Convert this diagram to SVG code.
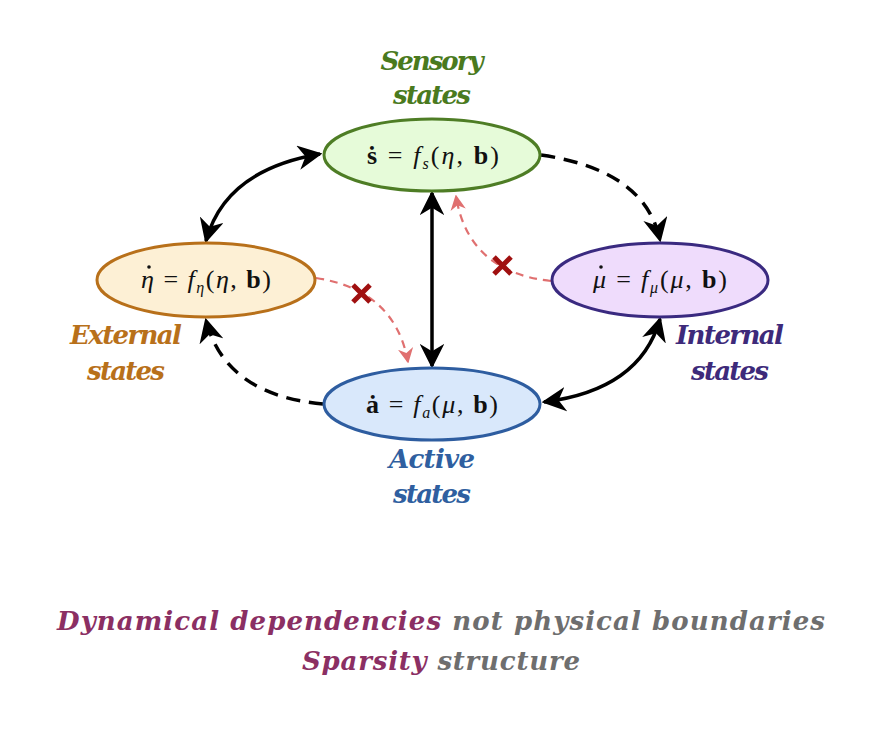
<svg xmlns="http://www.w3.org/2000/svg" width="892" height="736" viewBox="0 0 892 736">
<style>
.lbl{font-family:"DejaVu Serif","Liberation Serif",serif;font-style:italic;font-weight:bold;font-size:26px;text-anchor:middle}
.m{font-family:"Liberation Serif",serif;font-size:26px;text-anchor:middle;fill:#111}
.k{fill:none;stroke:#000;stroke-width:3.5}
.d{stroke-dasharray:14 9}
.r{fill:none;stroke:#e07070;stroke-width:2.2;stroke-dasharray:8 6}
.x{stroke:#a01010;stroke-width:5;stroke-linecap:butt}
</style>
<defs>
<marker id="bh" viewBox="0 0 10 10" refX="9" refY="5" markerWidth="7" markerHeight="7" orient="auto-start-reverse"><path d="M0,0 L10,5 L0,10 L3,5 Z" fill="#000"/></marker>
<marker id="rh" viewBox="0 0 10 10" refX="9" refY="5" markerWidth="7" markerHeight="7" orient="auto"><path d="M0,0 L10,5 L0,10 L3,5 Z" fill="#e07070"/></marker>
</defs>
<rect width="892" height="736" fill="#fff"/>
<g id="connectors">
<path class="k" d="M206,241 Q225,170 320,154" marker-start="url(#bh)" marker-end="url(#bh)"/>
<path class="k d" d="M541,155 Q645,170 660,240" marker-end="url(#bh)"/>
<path class="k" d="M432,193 L432,366" marker-start="url(#bh)" marker-end="url(#bh)"/>
<path class="k" d="M660,319 Q640,390 544,402" marker-start="url(#bh)" marker-end="url(#bh)"/>
<path class="k d" d="M323,404 Q225,395 206,320" marker-end="url(#bh)"/>
<path class="r" d="M316,278 Q395,290 408,362" marker-end="url(#rh)"/>
<path class="r" d="M551,281 Q468,272 456,196" marker-end="url(#rh)"/>
<path class="x" d="M353,285 L370,302 M370,285 L353,302"/>
<path class="x" d="M494,257 L511,274 M511,257 L494,274"/>
</g>
<g id="sensory">
<ellipse cx="432" cy="155" rx="108" ry="36" fill="#e6fbd9" stroke="#4e7d25" stroke-width="3"/>
<text class="m" x="433" y="164" textLength="132" lengthAdjust="spacing"><tspan font-weight="bold">ṡ</tspan> = <tspan font-style="italic">f</tspan><tspan font-style="italic" font-size="16" dy="5">s</tspan><tspan dy="-5">(</tspan><tspan font-style="italic">η</tspan>, <tspan font-weight="bold">b</tspan>)</text>
<text class="lbl" x="432" y="70" fill="#4a7a1e" textLength="103">Sensory</text>
<text class="lbl" x="432" y="104" fill="#4a7a1e" textLength="78">states</text>
</g>
<g id="external">
<ellipse cx="206" cy="280" rx="109" ry="37" fill="#fdf0d5" stroke="#b8701a" stroke-width="3"/>
<text class="m" x="206" y="288" textLength="130" lengthAdjust="spacing"><tspan font-style="italic">η</tspan> = <tspan font-style="italic">f</tspan><tspan font-style="italic" font-size="16" dy="5">η</tspan><tspan dy="-5">(</tspan><tspan font-style="italic">η</tspan>, <tspan font-weight="bold">b</tspan>)</text>
<circle cx="149" cy="267" r="1.8" fill="#111"/>
<text class="lbl" x="126" y="344" fill="#b8701a" textLength="112">External</text>
<text class="lbl" x="126" y="380" fill="#b8701a" textLength="78">states</text>
</g>
<g id="internal">
<ellipse cx="660" cy="280" rx="108" ry="37" fill="#efdcfc" stroke="#3a2a80" stroke-width="3"/>
<text class="m" x="660" y="288" textLength="134" lengthAdjust="spacing"><tspan font-style="italic">μ</tspan> = <tspan font-style="italic">f</tspan><tspan font-style="italic" font-size="16" dy="5">μ</tspan><tspan dy="-5">(</tspan><tspan font-style="italic">μ</tspan>, <tspan font-weight="bold">b</tspan>)</text>
<circle cx="601" cy="267" r="1.8" fill="#111"/>
<text class="lbl" x="730" y="344" fill="#3d2a7a" textLength="108">Internal</text>
<text class="lbl" x="730" y="380" fill="#3d2a7a" textLength="78">states</text>
</g>
<g id="active">
<ellipse cx="432" cy="404" rx="108" ry="36" fill="#d9e8fb" stroke="#2e5da0" stroke-width="3"/>
<text class="m" x="432" y="413" textLength="132" lengthAdjust="spacing"><tspan font-weight="bold">ȧ</tspan> = <tspan font-style="italic">f</tspan><tspan font-style="italic" font-size="16" dy="5">a</tspan><tspan dy="-5">(</tspan><tspan font-style="italic">μ</tspan>, <tspan font-weight="bold">b</tspan>)</text>
<text class="lbl" x="432" y="468" fill="#2f5fa0" textLength="86">Active</text>
<text class="lbl" x="432" y="503" fill="#2f5fa0" textLength="78">states</text>
</g>
<g id="caption">
<text class="lbl" x="441" y="630" font-size="30" textLength="768"><tspan fill="#8b2f63">Dynamical dependencies</tspan><tspan fill="#6e6e6e"> not physical boundaries</tspan></text>
<text class="lbl" x="441" y="670" font-size="30" textLength="278"><tspan fill="#8b2f63">Sparsity</tspan><tspan fill="#6e6e6e"> structure</tspan></text>
</g>
</svg>
